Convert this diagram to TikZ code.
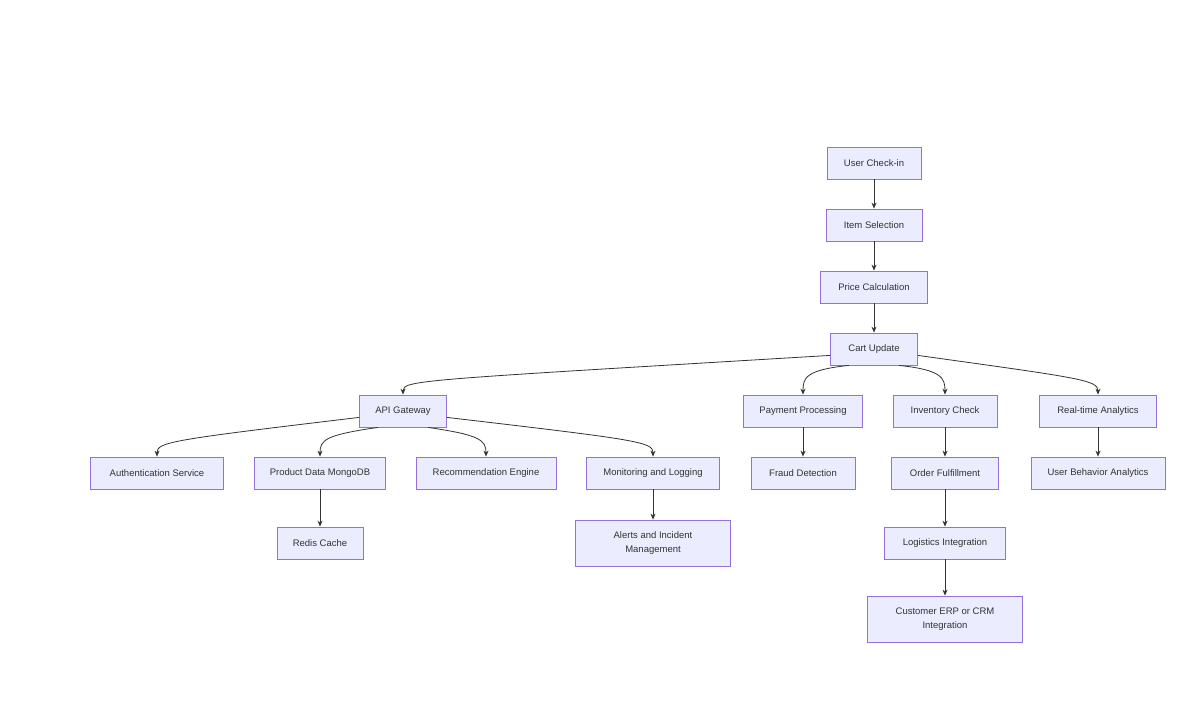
\documentclass[tikz,border=0pt]{standalone}
\usepackage{fontspec}
\setmainfont{Liberation Sans}
\usetikzlibrary{arrows.meta}
\definecolor{boxfill}{HTML}{ECECFF}
\definecolor{boxline}{HTML}{9370DB}
\definecolor{ink}{HTML}{333333}
\tikzset{
  box/.style={draw=boxline, fill=boxfill, line width=0.8pt, minimum height=32pt,
    inner xsep=8pt, text=ink, font=\fontsize{9.5}{14}\selectfont, align=center},
  edge/.style={draw=ink, line width=0.8pt, -{Stealth[length=6pt,width=5pt]}}
}
\begin{document}
\begin{tikzpicture}[x=1pt,y=1pt]
\useasboundingbox[fill=white] (0,0) rectangle (1200,-702);
% main chain
\node [box, minimum width=94pt] (checkin) at (874,-163) {User Check-in};
\node [box, minimum width=96pt] (select) at (874,-225) {Item Selection};
\node [box, minimum width=107pt] (price) at (874,-287) {Price Calculation};
\node [box, minimum width=87pt] (cart) at (874,-349) {Cart Update};
% second row
\node [box, minimum width=87pt] (gateway) at (403,-411) {API Gateway};
\node [box, minimum width=119pt] (payment) at (803,-411) {Payment Processing};
\node [box, minimum width=104pt] (inventory) at (945,-411) {Inventory Check};
\node [box, minimum width=117pt] (realtime) at (1098,-411) {Real-time Analytics};
% third row
\node [box, minimum width=133pt] (auth) at (157,-473) {Authentication Service};
\node [box, minimum width=131pt] (product) at (320,-473) {Product Data MongoDB};
\node [box, minimum width=140pt] (recommend) at (486,-473) {Recommendation Engine};
\node [box, minimum width=133pt] (monitor) at (653,-473) {Monitoring and Logging};
\node [box, minimum width=104pt] (fraud) at (803,-473) {Fraud Detection};
\node [box, minimum width=107pt] (fulfil) at (945,-473) {Order Fulfillment};
\node [box, minimum width=134pt] (behavior) at (1098,-473) {User Behavior Analytics};
% lower rows
\node [box, minimum width=86pt] (redis) at (320,-543) {Redis Cache};
\node [box, minimum width=155pt, minimum height=46pt] (alerts) at (653,-543) {Alerts and Incident\\Management};
\node [box, minimum width=121pt] (logistics) at (945,-543) {Logistics Integration};
\node [box, minimum width=155pt, minimum height=46pt] (erp) at (945,-619) {Customer ERP or CRM\\Integration};
% connectors
\draw [edge] (checkin) -- (select);
\draw [edge] (select) -- (price);
\draw [edge] (price) -- (cart);
\draw [edge] (cart.south west) ++(0,10pt) coordinate (c1) (c1) .. controls (420,-380) and (403,-380) .. (gateway.north);
\draw [edge] (cart.south) ++(-25pt,0) coordinate (c2) (c2) .. controls (805,-370) and (803,-378) .. (payment.north);
\draw [edge] (cart.south) ++(25pt,0) coordinate (c3) (c3) .. controls (942,-370) and (945,-378) .. (inventory.north);
\draw [edge] (cart.south east) ++(0,10pt) coordinate (c4) (c4) .. controls (1080,-378) and (1098,-380) .. (realtime.north);
\draw [edge] (gateway.south west) ++(0,10pt) coordinate (g1) (g1) .. controls (170,-440) and (157,-442) .. (auth.north);
\draw [edge] (gateway.south) ++(-25pt,0) coordinate (g2) (g2) .. controls (325,-435) and (320,-440) .. (product.north);
\draw [edge] (gateway.south) ++(25pt,0) coordinate (g3) (g3) .. controls (480,-435) and (486,-440) .. (recommend.north);
\draw [edge] (gateway.south east) ++(0,10pt) coordinate (g4) (g4) .. controls (640,-440) and (653,-442) .. (monitor.north);
\draw [edge] (payment) -- (fraud);
\draw [edge] (inventory) -- (fulfil);
\draw [edge] (realtime) -- (behavior);
\draw [edge] (product) -- (redis);
\draw [edge] (monitor) -- (alerts);
\draw [edge] (fulfil) -- (logistics);
\draw [edge] (logistics) -- (erp);
\end{tikzpicture}
\end{document}
